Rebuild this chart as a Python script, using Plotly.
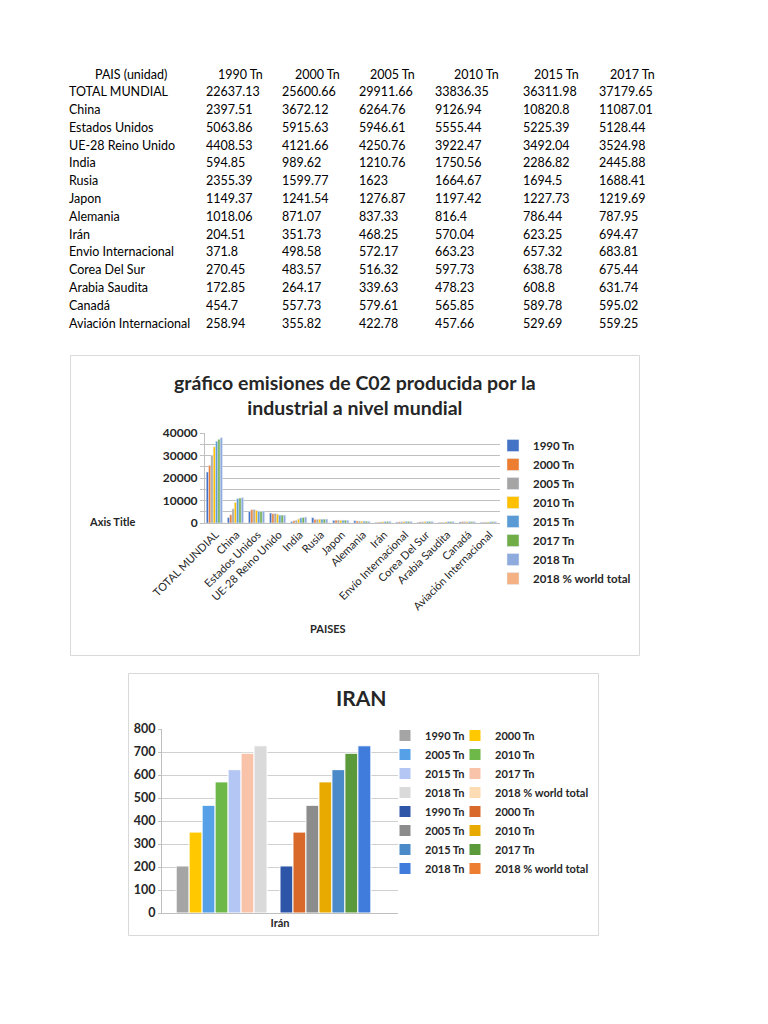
import plotly.graph_objects as go

W, H = 768, 1024
FONT = "Lato"

# ---------------- data ----------------
table_names = ["TOTAL MUNDIAL", "China", "Estados Unidos", "UE-28 Reino Unido", "India", "Rusia",
               "Japon", "Alemania", "Irán", "Envio Internacional", "Corea Del Sur", "Arabia Saudita",
               "Canadá", "Aviación Internacional"]
categories = ["TOTAL MUNDIAL", "China", "Estados Unidos", "UE-28 Reino Unido", "India", "Rusia",
              "Japon", "Alemania", "Irán", "Envío Internacional", "Corea Del Sur", "Arabia Saudita",
              "Canadá", "Aviación Internacional"]
table_header = ["PAIS (unidad)", "1990 Tn", "2000 Tn", "2005 Tn", "2010 Tn", "2015 Tn", "2017 Tn"]

t1990 = ["22637.13", "2397.51", "5063.86", "4408.53", "594.85", "2355.39", "1149.37", "1018.06", "204.51", "371.8", "270.45", "172.85", "454.7", "258.94"]
t2000 = ["25600.66", "3672.12", "5915.63", "4121.66", "989.62", "1599.77", "1241.54", "871.07", "351.73", "498.58", "483.57", "264.17", "557.73", "355.82"]
t2005 = ["29911.66", "6264.76", "5946.61", "4250.76", "1210.76", "1623", "1276.87", "837.33", "468.25", "572.17", "516.32", "339.63", "579.61", "422.78"]
t2010 = ["33836.35", "9126.94", "5555.44", "3922.47", "1750.56", "1664.67", "1197.42", "816.4", "570.04", "663.23", "597.73", "478.23", "565.85", "457.66"]
t2015 = ["36311.98", "10820.8", "5225.39", "3492.04", "2286.82", "1694.5", "1227.73", "786.44", "623.25", "657.32", "638.78", "608.8", "589.78", "529.69"]
t2017 = ["37179.65", "11087.01", "5128.44", "3524.98", "2445.88", "1688.41", "1219.69", "787.95", "694.47", "683.81", "675.44", "631.74", "595.02", "559.25"]
# estimated from the bars (not in the table)
v2018 = [37887, 11256, 5275, 3457, 2622, 1748, 1199, 753, 727, 700, 697, 625, 594, 593]
v2018_pct = [100, 29.71, 13.92, 9.12, 6.92, 4.61, 3.16, 1.99, 1.92, 1.85, 1.84, 1.65, 1.57, 1.57]

series_names = ["1990 Tn", "2000 Tn", "2005 Tn", "2010 Tn", "2015 Tn", "2017 Tn", "2018 Tn", "2018 % world total"]
series_values = [[float(v) for v in t1990], [float(v) for v in t2000], [float(v) for v in t2005],
                 [float(v) for v in t2010], [float(v) for v in t2015], [float(v) for v in t2017],
                 v2018, v2018_pct]

colors_main = ["#4472C4", "#ED7D31", "#A5A5A5", "#FFC000", "#5B9BD5", "#70AD47", "#8FAADC", "#F4B183"]
colors_iran_a = ["#A5A5A5", "#FFC800", "#55A0E6", "#6DB848", "#B4C6F4", "#F9C3AA", "#DADADA", "#FDDCB4"]
colors_iran_b = ["#2D55A8", "#D8692A", "#8C8C8C", "#E8AA00", "#4A8AC8", "#5B9A3A", "#3F7CDC", "#ED7D31"]

iran_idx = categories.index("Irán")
iran_values = [s[iran_idx] for s in series_values]

# ---------------- helpers ----------------
OFF = 8  # page body margin

def px(x):
    return (x - OFF) / W

def py(y):
    return 1 - (y - OFF) / H

fig = go.Figure()

# chart 1 bars
for name, vals, col in zip(series_names, series_values, colors_main):
    fig.add_trace(go.Bar(x=categories, y=vals, name=name, marker_color=col,
                         xaxis="x", yaxis="y", legend="legend"))

# chart 2 (Iran) bars: two sets of the same 8 series
for colors in (colors_iran_a, colors_iran_b):
    for j, (name, val, col) in enumerate(zip(series_names, iran_values, colors)):
        fig.add_trace(go.Bar(x=["Irán"], y=[val], name=name, marker_color=col,
                             marker_line=dict(color="white", width=1),
                             xaxis="x2", yaxis="y2",
                             legend="legend2" if j % 2 == 0 else "legend3"))

annotations = []
# table
header_x = [93, 216, 293, 368, 452, 532, 608]
data_x = [67, 204, 280, 357, 433, 521, 597]
row0 = 74
row_h = 17.79
tfont = dict(family=FONT, size=12.5, color="#000000")
for c, (txt, x) in enumerate(zip(table_header, header_x)):
    annotations.append(dict(x=px(x), y=py(row0), xref="paper", yref="paper", text=txt,
                            showarrow=False, xanchor="left", yanchor="middle", font=tfont))
cols = [table_names, t1990, t2000, t2005, t2010, t2015, t2017]
for c, (col, x) in enumerate(zip(cols, data_x)):
    for r, txt in enumerate(col):
        annotations.append(dict(x=px(x), y=py(row0 + row_h * (r + 1)), xref="paper", yref="paper",
                                text=txt, showarrow=False, xanchor="left", yanchor="middle", font=tfont))

# chart 1 texts
annotations.append(dict(x=px(355), y=py(395), xref="paper", yref="paper",
                        text="gráfico emisiones de C02 producida por la<br>industrial a nivel mundial",
                        showarrow=False, xanchor="center", yanchor="middle",
                        font=dict(family=FONT, size=19.5, color="#262626", weight="bold")))
annotations.append(dict(x=px(112), y=py(521), xref="paper", yref="paper", text="Axis Title",
                        showarrow=False, xanchor="center", yanchor="middle",
                        font=dict(family=FONT, size=11, color="#262626", weight="bold")))
annotations.append(dict(x=px(328), y=py(628), xref="paper", yref="paper", text="PAISES",
                        showarrow=False, xanchor="center", yanchor="middle",
                        font=dict(family=FONT, size=11, color="#262626", weight="bold")))
# chart 2 title
annotations.append(dict(x=px(361), y=py(697), xref="paper", yref="paper", text="IRAN",
                        showarrow=False, xanchor="center", yanchor="middle",
                        font=dict(family=FONT, size=21, color="#262626", weight="bold")))

shapes = [
    dict(type="rect", xref="paper", yref="paper", x0=px(70.5), x1=px(639.5), y0=py(655.5), y1=py(355.5),
         line=dict(color="#D9D9D9", width=1), fillcolor="rgba(0,0,0,0)", layer="below"),
    dict(type="rect", xref="paper", yref="paper", x0=px(128.5), x1=px(598.5), y0=py(935.5), y1=py(673.5),
         line=dict(color="#D9D9D9", width=1), fillcolor="rgba(0,0,0,0)", layer="below"),
]

grid = "#BFBFBF"
fig.update_layout(
    width=W, height=H, autosize=False,
    margin=dict(l=0, r=0, t=0, b=0, autoexpand=False),
    paper_bgcolor="white", plot_bgcolor="white",
    barmode="group", bargap=0.12, bargroupgap=0,
    font=dict(family=FONT, color="#262626"),
    annotations=annotations, shapes=shapes,
    xaxis=dict(domain=[px(205), px(500)], anchor="y", type="category", tickangle=-45,
               tickfont=dict(family=FONT, size=11, color="#262626"),
               showline=True, linecolor=grid, showgrid=False, ticks=""),
    yaxis=dict(domain=[py(523), py(433)], anchor="x", range=[0, 40000], dtick=10000, tickformat="d",
               showgrid=True, gridcolor=grid, showline=True, linecolor=grid,
               ticks="outside", ticklen=4, tickcolor=grid,
               minor=dict(dtick=5000, showgrid=True, gridcolor=grid, ticks="outside", ticklen=4, tickcolor=grid),
               tickfont=dict(family=FONT, size=12, color="#262626", weight="bold"), zeroline=False),
    xaxis2=dict(domain=[px(162), px(398)], anchor="y2", type="category",
                tickfont=dict(family=FONT, size=11, color="#262626", weight="bold"),
                showline=True, linecolor=grid, showgrid=False, ticks=""),
    yaxis2=dict(domain=[py(913), py(729)], anchor="x2", range=[0, 800], dtick=100,
                showgrid=True, gridcolor="#D0D0D0", showline=True, linecolor=grid,
                ticks="outside", ticklen=3, tickcolor=grid,
                tickfont=dict(family=FONT, size=12.5, color="#262626", weight="bold"), zeroline=False),
    legend=dict(x=px(493), y=py(431), xanchor="left", yanchor="top", bgcolor="rgba(0,0,0,0)",
                font=dict(family=FONT, size=11.5, color="#262626", weight="bold"),
                tracegroupgap=0, itemclick=False, itemdoubleclick=False),
    legend2=dict(x=px(385), y=py(721), xanchor="left", yanchor="top", bgcolor="rgba(0,0,0,0)",
                 font=dict(family=FONT, size=11, color="#262626", weight="bold"),
                 tracegroupgap=0, itemclick=False, itemdoubleclick=False),
    legend3=dict(x=px(455), y=py(721), xanchor="left", yanchor="top", bgcolor="rgba(0,0,0,0)",
                 font=dict(family=FONT, size=11, color="#262626", weight="bold"),
                 tracegroupgap=0, itemclick=False, itemdoubleclick=False),
)

fig.write_html("out.html")
